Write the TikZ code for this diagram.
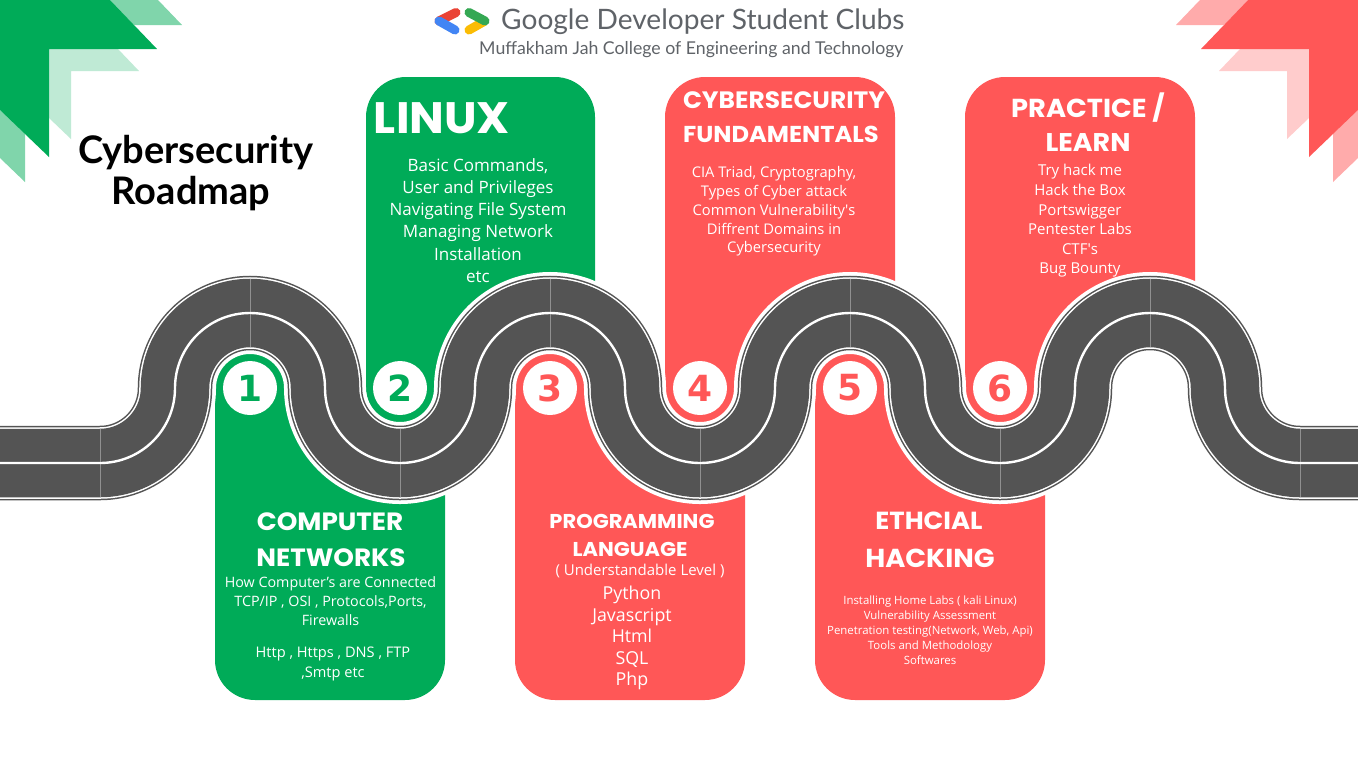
\documentclass[tikz,border=0pt]{standalone}
\usepackage{fontspec}
\setmainfont{Open Sans}
\newfontfamily\plainfont{Open Sans}
\newfontfamily\titlefont{Lato}
\newfontfamily\headfont[FakeStretch=1.05]{Poppins}
\newfontfamily\numfont{DejaVu Sans}
\definecolor{roadgreen}{HTML}{00AB58}
\definecolor{roadred}{HTML}{FF5757}
\definecolor{roadgrey}{HTML}{545454}
\definecolor{greenmid}{HTML}{80D5AB}
\definecolor{greenpale}{HTML}{BFEAD5}
\definecolor{redmid}{HTML}{FFABAB}
\definecolor{redpale}{HTML}{FFCCCC}
\definecolor{logogrey}{HTML}{5F6368}
\definecolor{logored}{HTML}{EA4335}
\definecolor{logoblue}{HTML}{4285F4}
\definecolor{logoyellow}{HTML}{FBBC04}
\definecolor{logogreen}{HTML}{34A853}
\newcommand{\roadpath}{(0,-463) -- (100,-463) arc[start angle=270,end angle=360,radius=75pt]
  arc[start angle=180,end angle=0,radius=75pt] arc[start angle=180,end angle=360,radius=75pt]
  arc[start angle=180,end angle=0,radius=75pt] arc[start angle=180,end angle=360,radius=75pt]
  arc[start angle=180,end angle=0,radius=75pt] arc[start angle=180,end angle=360,radius=75pt]
  arc[start angle=180,end angle=0,radius=75pt] arc[start angle=180,end angle=270,radius=75pt]
  -- (1358,-463)}
\newcommand{\cornermark}[3]{
  \fill[#2] (110,0) -- (158,0) -- (182,-25) -- (134,-25) -- cycle;
  \fill[#2] (0,-110) -- (25,-134) -- (25,-182) -- (0,-158) -- cycle;
  \fill[#3] (49,-49) -- (118,-49) -- (139,-71) -- (71,-71) -- (71,-139) -- (49,-118) -- cycle;
  \fill[#1] (0,0) -- (110,0) -- (157,-49) -- (49,-49) -- (49,-157) -- (0,-110) -- cycle;
}
\tikzset{
  headtext/.style={text=white,inner sep=0pt},
  bodytext/.style={text=white,align=center,inner sep=0pt},
  numdisc/.style={circle,fill=white,minimum size=54pt,inner sep=0pt,font=\numfont\bfseries\fontsize{36}{36}\selectfont},
  seam/.style={draw=roadgrey!65!white,line width=0.7pt},
  logostroke/.style={line width=9pt,line cap=round}
}
\begin{document}
\begin{tikzpicture}[x=1pt,y=1pt]
\useasboundingbox (0,0) rectangle (1358,-764);
\fill[white] (0,0) rectangle (1358,-764);

% corners
\cornermark{roadgreen}{greenmid}{greenpale}
\begin{scope}[xshift=1358pt,xscale=-1]
\cornermark{roadred}{redmid}{redpale}
\end{scope}

% header
\draw[logostroke,color=logored] (456,-12.5) -- (439,-21);
\draw[logostroke,color=logoblue] (439,-21) -- (455,-30);
\draw[logostroke,color=logoyellow] (469,-30) -- (484,-21.5);
\draw[logostroke,color=logogreen] (469,-12.5) -- (485,-21);
\node (gdsc) [text=logogrey,anchor=west,inner sep=0pt,font=\titlefont\fontsize{28.1}{30}\selectfont] at (501,-22) {Google Developer Student Clubs};
\node (college) [text=logogrey,anchor=west,inner sep=0pt,font=\titlefont\fontsize{17.7}{18.5}\selectfont] at (479,-50) {Muffakham Jah College of Engineering and Technology};
\node (title) [inner sep=0pt,font=\titlefont\bfseries\fontsize{38}{38}\selectfont] at (196,-153) {Cybersecurity};
\node (titleb) [inner sep=0pt,font=\titlefont\bfseries\fontsize{38}{38}\selectfont] at (191,-194) {Roadmap};

% panels, the road covers their inner parts
\fill[roadgreen] (215,-388) arc[start angle=180,end angle=0,radius=35pt] -- (330,-470) -- (445,-470) -- (445,-660)
  arc[start angle=0,end angle=-90,radius=40pt] -- (255,-700) arc[start angle=270,end angle=180,radius=40pt] -- cycle;
\fill[roadgreen] (366,-388) arc[start angle=180,end angle=360,radius=35pt] -- (480,-300) -- (595,-300) -- (595,-117)
  arc[start angle=0,end angle=90,radius=40pt] -- (406,-77) arc[start angle=90,end angle=180,radius=40pt] -- cycle;
\fill[roadred] (515,-388) arc[start angle=180,end angle=0,radius=35pt] -- (630,-470) -- (745,-470) -- (745,-660)
  arc[start angle=0,end angle=-90,radius=40pt] -- (555,-700) arc[start angle=270,end angle=180,radius=40pt] -- cycle;
\fill[roadred] (665,-388) arc[start angle=180,end angle=360,radius=35pt] -- (780,-300) -- (895,-300) -- (895,-117)
  arc[start angle=0,end angle=90,radius=40pt] -- (705,-77) arc[start angle=90,end angle=180,radius=40pt] -- cycle;
\fill[roadred] (815,-388) arc[start angle=180,end angle=0,radius=35pt] -- (930,-470) -- (1045,-470) -- (1045,-660)
  arc[start angle=0,end angle=-90,radius=40pt] -- (855,-700) arc[start angle=270,end angle=180,radius=40pt] -- cycle;
\fill[roadred] (965,-388) arc[start angle=180,end angle=360,radius=35pt] -- (1080,-300) -- (1195,-300) -- (1195,-117)
  arc[start angle=0,end angle=90,radius=40pt] -- (1005,-77) arc[start angle=90,end angle=180,radius=40pt] -- cycle;

% road
\draw[white,line width=82pt] \roadpath;
\draw[roadgrey,line width=74.5pt] \roadpath;
\draw[white,line width=71.5pt] \roadpath;
\draw[roadgrey,line width=68.5pt] \roadpath;
\draw[seam] (100,-429) -- (100,-497);
\draw[seam] (250,-279) -- (250,-347);
\draw[seam] (400,-429) -- (400,-497);
\draw[seam] (550,-279) -- (550,-347);
\draw[seam] (700,-429) -- (700,-497);
\draw[seam] (850,-279) -- (850,-347);
\draw[seam] (1000,-429) -- (1000,-497);
\draw[seam] (1150,-279) -- (1150,-347);
\draw[seam] (1300,-429) -- (1300,-497);
\draw[white,line width=2.4pt] \roadpath;

% numbers
\node (n1) [numdisc,text=roadgreen] at (250,-388) {1};
\node (n2) [numdisc,text=roadgreen] at (400,-388) {2};
\node (n3) [numdisc,text=roadred] at (550,-388) {3};
\node (n4) [numdisc,text=roadred] at (700,-388) {4};
\node (n5) [numdisc,text=roadred] at (850,-388) {5};
\node (n6) [numdisc,text=roadred] at (1000,-388) {6};

% computer networks
\node (h1a) [headtext,font=\headfont\bfseries\fontsize{25}{25}\selectfont] at (330,-522) {COMPUTER};
\node (h1b) [headtext,font=\headfont\bfseries\fontsize{25}{25}\selectfont] at (331,-558) {NETWORKS};
\node (b1a) [bodytext,font=\fontsize{14.3}{19}\selectfont] at (330.5,-601.5) {How Computer’s are Connected\\TCP/IP , OSI , Protocols,Ports,\\Firewalls};
\node (b1b) [bodytext,font=\fontsize{14.6}{19.5}\selectfont] at (333,-664) {Http , Https , DNS , FTP\\,Smtp etc};

% linux
\node (h2a) [headtext,font=\headfont\bfseries\fontsize{44}{44}\selectfont] at (442,-118) {LINUX};
\node (b2a) [bodytext,font=\fontsize{17}{22.2}\selectfont] at (478,-220.5) {Basic Commands,\\User and Privileges\\Navigating File System\\Managing Network\\Installation\\etc};

% programming language
\node (h3a) [headtext,font=\headfont\bfseries\fontsize{20}{20}\selectfont] at (632,-521) {PROGRAMMING};
\node (h3b) [headtext,font=\headfont\bfseries\fontsize{20}{20}\selectfont] at (630,-549) {LANGUAGE};
\node (b3a) [bodytext,font=\fontsize{15}{15}\selectfont] at (640,-571) {( Understandable Level )};
\node (b3b) [bodytext,font=\fontsize{17.8}{21.5}\selectfont] at (632,-638) {Python\\Javascript\\Html\\SQL\\Php};

% cybersecurity fundamentals
\node (h4a) [headtext,font=\headfont\bfseries\fontsize{23.7}{24}\selectfont] at (784,-100) {CYBERSECURITY};
\node (h4b) [headtext,font=\headfont\bfseries\fontsize{23}{24}\selectfont] at (781,-134) {FUNDAMENTALS};
\node (b4a) [bodytext,font=\fontsize{14.7}{18.8}\selectfont] at (774,-211.5) {CIA Triad, Cryptography,\\Types of Cyber attack\\Common Vulnerability{\plainfont'}s\\Diffrent Domains in\\Cybersecurity};

% ethical hacking
\node (h5a) [headtext,font=\headfont\bfseries\fontsize{24.7}{25}\selectfont] at (929,-521) {ETHCIAL};
\node (h5b) [headtext,font=\headfont\bfseries\fontsize{26}{26}\selectfont] at (930,-558) {HACKING};
\node (b5a) [bodytext,font=\fontsize{11.4}{15}\selectfont] at (930,-630.5) {Installing Home Labs ( kali Linux)\\Vulnerability Assessment\\Penetration testing(Network, Web, Api)\\Tools and Methodology\\Softwares};

% practice / learn
\node (h6a) [headtext,font=\headfont\bfseries\fontsize{26}{26}\selectfont] at (1088,-108) {PRACTICE /};
\node (h6b) [headtext,font=\headfont\bfseries\fontsize{25.6}{26}\selectfont] at (1088,-143) {LEARN};
\node (b6a) [bodytext,font=\fontsize{15}{19.6}\selectfont] at (1080,-221) {Try hack me\\Hack the Box\\Portswigger\\Pentester Labs\\CTF{\plainfont'}s\\Bug Bounty};
\end{tikzpicture}
\end{document}
